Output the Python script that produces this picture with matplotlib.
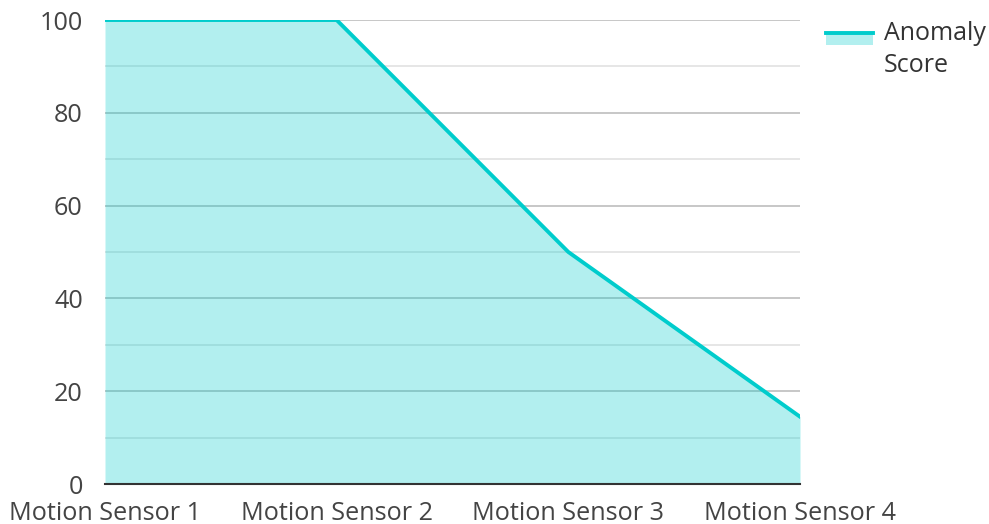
import matplotlib.pyplot as plt
from matplotlib.patches import Rectangle
from matplotlib.lines import Line2D

sensors = ["Motion Sensor 1", "Motion Sensor 2", "Motion Sensor 3", "Motion Sensor 4"]
anomaly_score = [100, 100, 50, 14.5]
series_name = "Anomaly\nScore"

line_color = "#00CCCC"
plt.rcParams['font.family'] = ['Open Sans', 'DejaVu Sans']

W, H = 989, 524
fig = plt.figure(figsize=(W / 100, H / 100), dpi=100)
ax = fig.add_axes([105 / W, (H - 484) / H, (800 - 105) / W, (484 - 20) / H])

x = list(range(len(sensors)))
ax.set_yticks(range(0, 101, 10), minor=True)
ax.set_yticks(range(0, 101, 20))
ax.grid(which="major", axis="y", color="#bdbdbd", linewidth=1.2, zorder=0)
ax.grid(which="minor", axis="y", color="#e2e2e2", linewidth=1.2, zorder=0)
ax.set_axisbelow(True)

ax.fill_between(x, anomaly_score, 0, color=line_color, alpha=0.3, linewidth=0, zorder=2)
ax.plot(x, anomaly_score, color=line_color, linewidth=2.8, zorder=3, solid_joinstyle="miter")

ax.set_xlim(0, len(sensors) - 1)
ax.set_ylim(0, 100)
ax.set_xticks(x)
ax.set_xticklabels(sensors)
for s in ["top", "right", "left"]:
    ax.spines[s].set_visible(False)
ax.spines["bottom"].set_color("#333333")
ax.spines["bottom"].set_linewidth(1.5)
ax.spines["bottom"].set_zorder(4)
ax.tick_params(axis="both", which="both", length=0, labelsize=18.2, labelcolor="#444444")
ax.tick_params(axis="y", pad=16)
ax.tick_params(axis="x", pad=12)

# legend
fig.patches.append(Rectangle((826 / W, (H - 45) / H), 47 / W, 13 / H,
                             transform=fig.transFigure, color=line_color, alpha=0.3, lw=0))
fig.lines.append(Line2D([826 / W, 873 / W], [(H - 33) / H] * 2,
                        transform=fig.transFigure, color=line_color, lw=2.8))
for i, word in enumerate(series_name.split("\n")):
    fig.text(884 / W, (H - 33 - 33 * i) / H, word, fontsize=18, color="#333333",
             va="center", ha="left")

fig.savefig("out.png", dpi=100)
